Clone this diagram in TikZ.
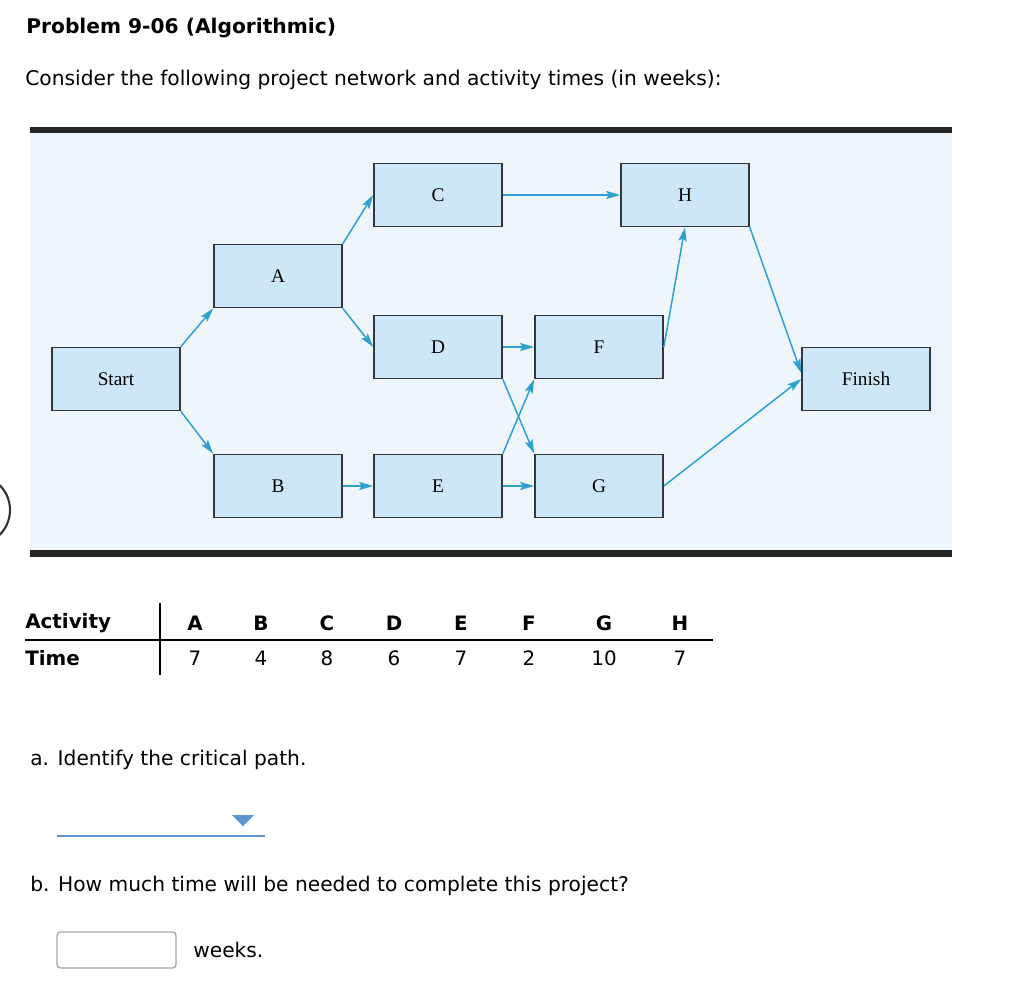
\documentclass[tikz,border=0pt]{standalone}
\usepackage{fontspec}
\setmainfont{DejaVu Sans}
\newfontfamily\boxfont{Liberation Serif}
\usetikzlibrary{
    arrows.meta,
    positioning,
    calc
}
\tikzset{
  act/.style    = {draw=boxEdge, fill=boxFill, line width=0.95pt,
                   minimum width=2.56cm, minimum height=1.26cm, inner sep=0pt,
                   font=\boxfont\fontsize{11}{13}\selectfont},
  arr/.style    = {-{Stealth[length=8pt,width=4.6pt,inset=1.5pt]}, netArrow, line width=0.85pt},
  txt/.style    = {anchor=west, inner sep=0pt, font=\fontsize{11.5}{13}\selectfont},
  hdr/.style    = {inner sep=0pt, font=\bfseries\fontsize{11.3}{13}\selectfont},
  cell/.style   = {inner sep=0pt, font=\fontsize{11.3}{13}\selectfont}
}
\definecolor{netArrow}{RGB}{45,160,210}
\definecolor{boxFill}{RGB}{204,232,248}
\definecolor{boxEdge}{RGB}{50,55,60}
\definecolor{panelBg}{RGB}{238,246,252}
\definecolor{uiBlue}{RGB}{90,150,205}

\begin{document}
\begin{tikzpicture}[x=0.02cm, y=-0.02cm]
    \useasboundingbox (0,0) rectangle (1024,983);

    % Heading
    \node[txt, font=\bfseries\fontsize{11.5}{13}\selectfont] (title) at (26,28) {Problem 9-06 (Algorithmic)};
    \node[txt] (intro) at (25,80) {Consider the following project network and activity times (in weeks):};

    % Network panel
    \fill[panelBg] (30,130) rectangle (952,553);
    \fill[black!85] (30,127) rectangle (952,133);
    \fill[black!85] (30,550) rectangle (952,557);
    \draw[line width=1.2pt, black!80] (-25,510) circle[radius=35];

    % Activities
    \node[act] (start)  at (116,379) {Start};
    \node[act] (A)      at (278,276) {A};
    \node[act] (B)      at (278,486) {B};
    \node[act] (C)      at (438,195) {C};
    \node[act] (D)      at (438,347) {D};
    \node[act] (E)      at (438,486) {E};
    \node[act] (F)      at (599,347) {F};
    \node[act] (G)      at (599,486) {G};
    \node[act] (H)      at (685,195) {H};
    \node[act] (finish) at (866,379) {Finish};

    % Precedence arrows
    \draw[arr] (start.north east) -- (A.south west);
    \draw[arr] (start.south east) -- (B.north west);
    \draw[arr] (A.north east) -- (C.west);
    \draw[arr] (A.south east) -- (D.west);
    \draw[arr] (B.east) -- (E.west);
    \draw[arr] (C.east) -- (H.west);
    \draw[arr] (D.east) -- (F.west);
    \draw[arr] (E.east) -- (G.west);
    \draw[arr] (D.south east) -- (G.north west);
    \draw[arr] (E.north east) -- (F.south west);
    \draw[arr] (F.east) -- (H.south);
    \draw[arr] (H.south east) -- ([yshift=0.12cm]finish.west);
    \draw[arr] (G.east) -- (finish.west);

    % Activity times table
    \node[hdr, anchor=west] (acthdr)  at (25,623) {Activity};
    \node[hdr, anchor=west] (timehdr) at (25,658) {Time};
    \foreach \x/\lbl/\val in {195/A/7,261/B/4,327/C/8,394/D/6,461/E/7,529/F/2,604/G/10,680/H/7} {
      \node[hdr]  (n\lbl) at (\x,623) {\lbl};
      \node[cell] (t\lbl) at (\x,658) {\val};
    }
    \draw[line width=0.7pt] (25,640) -- (713,640);
    \draw[line width=0.7pt] (160,603) -- (160,675);

    % Questions
    \node[txt] (qa) at (30,760) {a. Identify the critical path.};
    \draw[uiBlue, line width=0.85pt] (57,836) -- (265,836);
    \fill[uiBlue] (232,815) -- (254,815) -- (243,826) -- cycle;
    \node[txt] (qb) at (30,886) {b. How much time will be needed to complete this project?};
    \draw[gray!70, line width=0.8pt, rounded corners=2pt] (57,932) rectangle (176,968);
    \node[txt] (wk) at (193,950) {weeks.};
\end{tikzpicture}
\end{document}
